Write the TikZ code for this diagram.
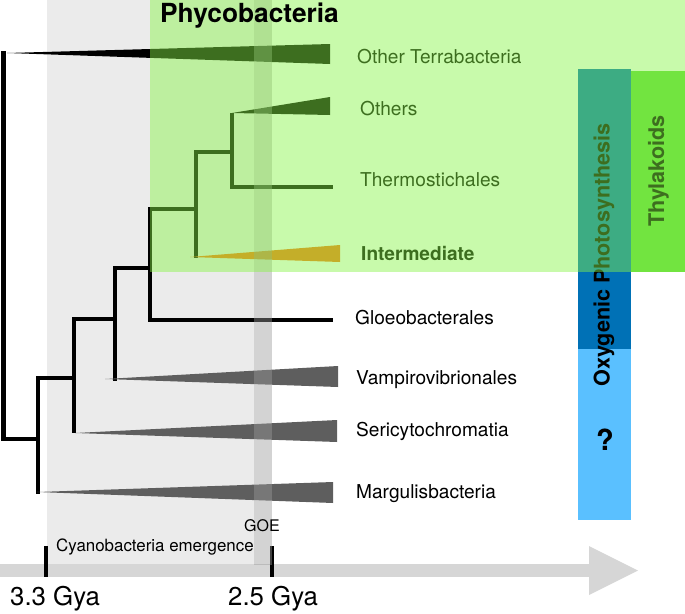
\documentclass[tikz,border=0pt]{standalone}
\usepackage{fontspec}
\setmainfont{TeX Gyre Heros}
\definecolor{bandgray}{HTML}{EBEBEB}
\definecolor{goegray}{RGB}{152,152,152}
\definecolor{axisgray}{HTML}{D6D6D6}
\definecolor{wedgegray}{HTML}{5E5E5E}
\definecolor{wedgeorange}{RGB}{248,117,18}
\definecolor{overlaygreen}{RGB}{135,244,70}
\definecolor{thylgreen}{RGB}{97,216,59}
\definecolor{darkblue}{RGB}{0,113,182}
\definecolor{lightblue}{RGB}{90,192,255}
\begin{document}
\begin{tikzpicture}[x=1pt,y=-1pt,
  tree/.style={line width=4.5pt, line join=miter},
  lab/.style={anchor=base west, inner sep=0pt, font=\fontsize{19.1}{21}\selectfont},
  small/.style={anchor=base west, inner sep=0pt, font=\fontsize{16.9}{18}\selectfont},
  big/.style={anchor=base west, inner sep=0pt, font=\fontsize{25.8}{28}\selectfont},
  vert/.style={rotate=90, inner sep=0pt, font=\bfseries\fontsize{21.6}{24}\selectfont},
  tick/.style={line width=4pt}]
\useasboundingbox (0,0) rectangle (685,613);
% background bands
\fill[bandgray] (47,0) rectangle (254,565);
% time axis
\fill[axisgray] (0,564) rectangle (590,577);
\fill[axisgray] (589,546) -- (638,570.5) -- (589,595) -- cycle;
\coordinate (t33a) at (46,546); \coordinate (t33b) at (46,577);
\coordinate (t25a) at (272,546); \coordinate (t25b) at (272,577);
\draw[tick] (t33a) -- (t33b);
\draw[tick] (t25a) -- (t25b);
\node[big] (g33) at (10,605) {3.3 Gya};
\node[big] (g25) at (228,605) {2.5 Gya};
\node[small] (cyem) at (56,551.5) {Cyanobacteria emergence};
% tree coordinates
\coordinate (ot) at (7,53);
\coordinate (rb) at (3.5,439);
\coordinate (A) at (38,439);
\coordinate (A1) at (38,378);
\coordinate (A2) at (38,494);
\coordinate (B) at (74,378);
\coordinate (B1) at (74,319);
\coordinate (B2) at (74,433);
\coordinate (C) at (115,319);
\coordinate (C1) at (115,268);
\coordinate (C2) at (115,381);
\coordinate (D) at (150,268);
\coordinate (D1) at (150,209);
\coordinate (D2) at (150,320);
\coordinate (gl) at (333,320);
\coordinate (E) at (196,209);
\coordinate (E1) at (196,152);
\coordinate (E2) at (196,258);
\coordinate (F) at (232,152);
\coordinate (F1) at (232,113);
\coordinate (F2) at (232,187);
\coordinate (th) at (333,187);
% branches
\draw[tree] (3.5,51) -- (rb) -- (A);
\draw[tree] (B) -- (A1) -- (A2);
\draw[tree] (C) -- (B1) -- (B2);
\draw[tree] (D) -- (C1) -- (C2);
\draw[tree] (E) -- (D1) -- (D2) -- (gl);
\draw[tree] (F) -- (E1) -- (E2);
\draw[tree] (F1) -- (F2) -- (th);
% wedges (collapsed clades)
\fill[black] (ot) -- (330,44) -- (330,64) -- cycle;
\fill[black] (F1) -- (330,97) -- (330,115) -- cycle;
\fill[wedgeorange] (190,257) -- (340,245) -- (340,262) -- cycle;
\fill[wedgegray] (105,379) -- (338,366) -- (338,387) -- cycle;
\fill[wedgegray] (75,433) -- (337,420) -- (337,442) -- cycle;
\fill[wedgegray] (37,492) -- (333,482) -- (333,503) -- cycle;
% labels
\node[lab] (l1) at (357,63.3) {Other Terrabacteria};
\node[lab] (l2) at (360,115) {Others};
\node[lab] (l3) at (360,186.7) {Thermostichales};
\node[lab, font=\bfseries\fontsize{19.1}{21}\selectfont] (l4) at (361,260) {Intermediate};
\node[lab] (l5) at (355,324) {Gloeobacterales};
\node[lab] (l6) at (356,384) {Vampirovibrionales};
\node[lab] (l7) at (356,436) {Sericytochromatia};
\node[lab] (l8) at (356,498.3) {Margulisbacteria};
% right bars
\fill[darkblue] (578,69) rectangle (631,349);
\fill[lightblue] (578,349) rectangle (631,520);
\fill[thylgreen] (631,71) rectangle (685,272);
\node[vert] (oxy) at (604,255) {Oxygenic Photosynthesis};
\node[vert] (thy) at (658.5,171) {Thylakoids};
\node[inner sep=0pt, font=\bfseries\fontsize{29}{31}\selectfont] (q) at (605,440) {?};
% GOE band
\fill[goegray, opacity=0.43] (254,0) rectangle (272,565);
\node[small, font=\fontsize{16}{17}\selectfont] (goe) at (244,531.5) {GOE};
% Phycobacteria overlay
\fill[overlaygreen, opacity=0.455] (150,0) rectangle (685,272);
\node[anchor=base west, inner sep=0pt, font=\bfseries\fontsize{26.3}{28}\selectfont] (phy) at (160,23) {Phycobacteria};
\end{tikzpicture}
\end{document}
